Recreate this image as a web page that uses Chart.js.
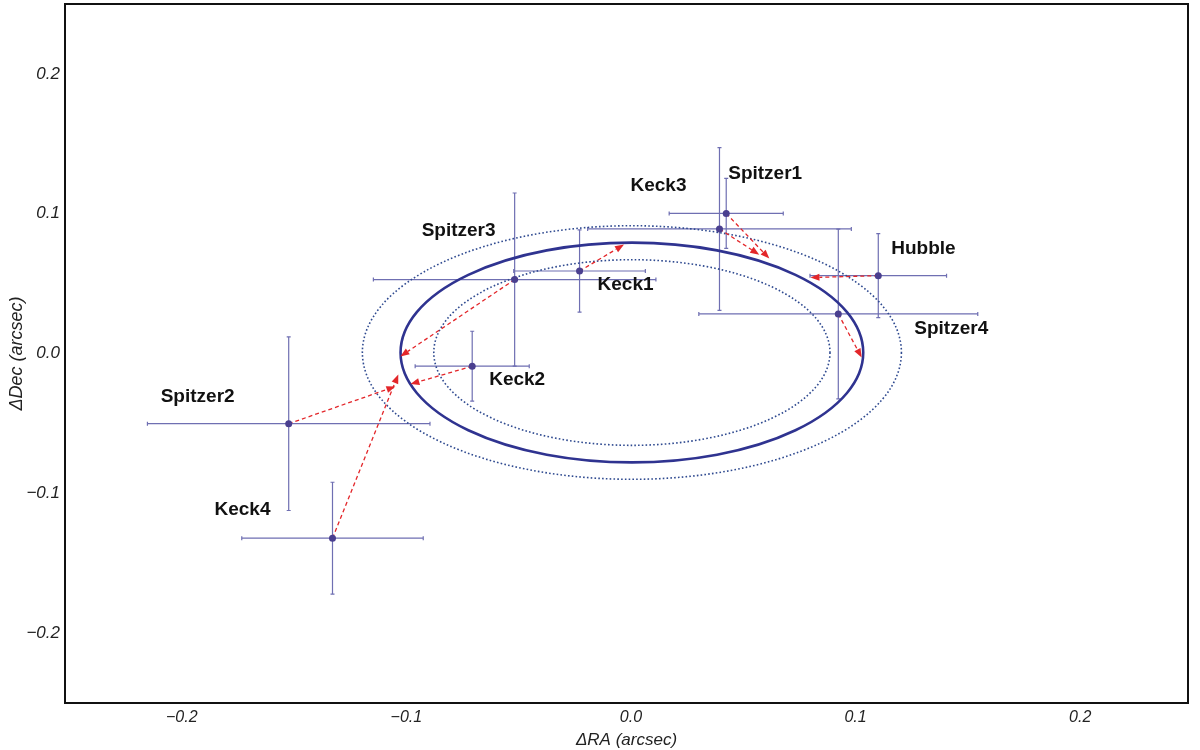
<!DOCTYPE html>
<html>
<head>
<meta charset="utf-8">
<script src="https://cdn.jsdelivr.net/npm/chart.js@4.4.1/dist/chart.umd.min.js"></script>
<style>
  html, body { margin: 0; padding: 0; background: #fff; }
  #wrap { width: 1200px; height: 750px; }
</style>
</head>
<body>
<div id="wrap"><canvas id="orbit"></canvas></div>
<script>
// observed offsets (arcsec)
const names = ['Keck1', 'Keck2', 'Keck3', 'Keck4', 'Spitzer1', 'Spitzer2', 'Spitzer3', 'Spitzer4', 'Hubble'];
const obsRA  = [-0.0229, -0.0707, 0.0394, -0.1329, 0.0424, -0.1524, -0.0518, 0.0923, 0.1101];
const obsDec = [0.0590, -0.0091, 0.0891, -0.1321, 0.1002, -0.0502, 0.0529, 0.0283, 0.0557];
const errRA  = [0.0293, 0.0254, 0.0587, 0.0404, 0.0254, 0.0629, 0.0629, 0.0621, 0.0304];
const errDec = [0.0294, 0.0250, 0.0582, 0.0400, 0.0250, 0.0621, 0.0619, 0.0607, 0.0300];
// model positions on the orbit (arrow tips)
const predRA  = [-0.0031, -0.0982, 0.0571, -0.1036, 0.0616, -0.1049, -0.1027, 0.1027, 0.0799];
const predDec = [0.0779, -0.0219, 0.0707, -0.0150, 0.0679, -0.0236, -0.0021, -0.0029, 0.0543];
// best fit orbit and its two bounding orbits: semi axes in RA / Dec
const orbitCenter = [0.0004, 0.0007];
const orbitRA  = [0.1030, 0.1200, 0.0882];
const orbitDec = [0.0786, 0.0907, 0.0664];
const xTicks = [-0.2, -0.1, 0.0, 0.1, 0.2];
const yTicks = [-0.2, -0.1, 0.0, 0.1, 0.2];

const BAR = '#6f6fb2';
const DOT = '#4a3f8f';
const ORBIT = '#2f3390';
const DOTTED = '#2f4a90';
const ARROW = '#e3262a';

// pixel offsets for the station labels (left edge, middle)
const labelOffsets = [[18, 14], [17, 14], [-89, -43], [-118, -28], [2, -40], [-128, -27], [-93, -49], [76, 15], [13, -27]];

const fmt = v => (Math.abs(v) < 1e-9 ? '0.0' : v.toFixed(1).replace('-', '\u2212'));

const overlay = {
  id: 'overlay',
  beforeDatasetsDraw(chart) {
    const ctx = chart.ctx;
    const xs = chart.scales.x, ys = chart.scales.y;
    const area = chart.chartArea;
    ctx.save();
    ctx.beginPath();
    ctx.rect(area.left, area.top, area.right - area.left, area.bottom - area.top);
    ctx.clip();

    // error bars
    ctx.strokeStyle = BAR;
    ctx.lineWidth = 1.2;
    const cap = 2;
    names.forEach((n, i) => {
      const px = xs.getPixelForValue(obsRA[i]);
      const py = ys.getPixelForValue(obsDec[i]);
      const x0 = xs.getPixelForValue(obsRA[i] - errRA[i]);
      const x1 = xs.getPixelForValue(obsRA[i] + errRA[i]);
      const y0 = ys.getPixelForValue(obsDec[i] - errDec[i]);
      const y1 = ys.getPixelForValue(obsDec[i] + errDec[i]);
      ctx.beginPath();
      ctx.moveTo(x0, py); ctx.lineTo(x1, py);
      ctx.moveTo(px, y0); ctx.lineTo(px, y1);
      ctx.moveTo(x0, py - cap); ctx.lineTo(x0, py + cap);
      ctx.moveTo(x1, py - cap); ctx.lineTo(x1, py + cap);
      ctx.moveTo(px - cap, y0); ctx.lineTo(px + cap, y0);
      ctx.moveTo(px - cap, y1); ctx.lineTo(px + cap, y1);
      ctx.stroke();
    });

    // orbits
    const cx = xs.getPixelForValue(orbitCenter[0]);
    const cy = ys.getPixelForValue(orbitCenter[1]);
    orbitRA.forEach((a, k) => {
      const rx = Math.abs(xs.getPixelForValue(orbitCenter[0] + a) - cx);
      const ry = Math.abs(ys.getPixelForValue(orbitCenter[1] + orbitDec[k]) - cy);
      ctx.beginPath();
      ctx.ellipse(cx, cy, rx, ry, 0, 0, Math.PI * 2);
      if (k === 0) {
        ctx.setLineDash([]);
        ctx.strokeStyle = ORBIT;
        ctx.lineWidth = 2.6;
      } else {
        ctx.setLineDash([1.6, 2.2]);
        ctx.strokeStyle = DOTTED;
        ctx.lineWidth = 1.6;
      }
      ctx.stroke();
    });

    // residual arrows
    ctx.strokeStyle = ARROW;
    ctx.fillStyle = ARROW;
    ctx.lineWidth = 1.3;
    names.forEach((n, i) => {
      const sx = xs.getPixelForValue(obsRA[i]);
      const sy = ys.getPixelForValue(obsDec[i]);
      const ex = xs.getPixelForValue(predRA[i]);
      const ey = ys.getPixelForValue(predDec[i]);
      const ang = Math.atan2(ey - sy, ex - sx);
      const head = 9;
      const bx = ex - head * Math.cos(ang), by = ey - head * Math.sin(ang);
      ctx.setLineDash([4, 3]);
      ctx.beginPath();
      ctx.moveTo(sx, sy); ctx.lineTo(bx, by);
      ctx.stroke();
      ctx.setLineDash([]);
      ctx.beginPath();
      ctx.moveTo(ex, ey);
      ctx.lineTo(bx + 3.5 * Math.sin(ang), by - 3.5 * Math.cos(ang));
      ctx.lineTo(bx - 3.5 * Math.sin(ang), by + 3.5 * Math.cos(ang));
      ctx.closePath();
      ctx.fill();
    });
    ctx.restore();
  },
  afterDatasetsDraw(chart) {
    const ctx = chart.ctx;
    const xs = chart.scales.x, ys = chart.scales.y;
    ctx.save();
    ctx.font = 'bold 19px "Liberation Sans", Arial, sans-serif';
    ctx.fillStyle = '#111';
    ctx.textAlign = 'left';
    ctx.textBaseline = 'middle';
    names.forEach((n, i) => {
      const px = xs.getPixelForValue(obsRA[i]);
      const py = ys.getPixelForValue(obsDec[i]);
      ctx.fillText(n, px + labelOffsets[i][0], py + labelOffsets[i][1]);
    });
    // frame
    const a = chart.chartArea;
    ctx.strokeStyle = '#111';
    ctx.lineWidth = 2;
    ctx.strokeRect(a.left, a.top, a.right - a.left, a.bottom - a.top);
    ctx.restore();
  }
};

new Chart(document.getElementById('orbit'), {
  type: 'scatter',
  data: {
    datasets: [{
      label: 'observed',
      data: obsRA.map((x, i) => ({ x: x, y: obsDec[i] })),
      pointRadius: 3.5,
      pointBackgroundColor: DOT,
      pointBorderColor: DOT,
      pointBorderWidth: 0
    }]
  },
  options: {
    responsive: true,
    maintainAspectRatio: false,
    animation: false,
    layout: { padding: { top: 3, right: 12, left: 0, bottom: 0 } },
    plugins: {
      legend: { display: false },
      tooltip: { enabled: false }
    },
    scales: {
      x: {
        type: 'linear',
        min: -0.252,
        max: 0.248,
        afterBuildTicks: s => { s.ticks = xTicks.map(v => ({ value: v })); },
        afterFit: s => { s.height = 47; s.paddingLeft = 0; s.paddingRight = 0; },
        grid: { display: false, drawTicks: false },
        border: { display: false },
        ticks: {
          padding: 5,
          color: '#222',
          font: { family: '"Liberation Sans", Arial, sans-serif', size: 16, style: 'italic' },
          callback: v => fmt(v)
        },
        title: {
          display: true,
          text: '\u0394RA (arcsec)',
          color: '#222',
          padding: { top: 0, bottom: 0 },
          font: { family: '"Liberation Sans", Arial, sans-serif', size: 17, style: 'italic' }
        }
      },
      y: {
        type: 'linear',
        min: -0.25,
        max: 0.25,
        afterBuildTicks: s => { s.ticks = yTicks.map(v => ({ value: v })); },
        afterFit: s => { s.width = 65; s.paddingTop = 0; s.paddingBottom = 0; },
        grid: { display: false, drawTicks: false },
        border: { display: false },
        ticks: {
          padding: 5,
          color: '#222',
          font: { family: '"Liberation Sans", Arial, sans-serif', size: 17, style: 'italic' },
          callback: v => fmt(v)
        },
        title: {
          display: true,
          text: '\u0394Dec (arcsec)',
          color: '#222',
          padding: { top: 6, bottom: 0 },
          font: { family: '"Liberation Sans", Arial, sans-serif', size: 18, style: 'italic' }
        }
      }
    }
  },
  plugins: [overlay]
});
</script>
</body>
</html>
